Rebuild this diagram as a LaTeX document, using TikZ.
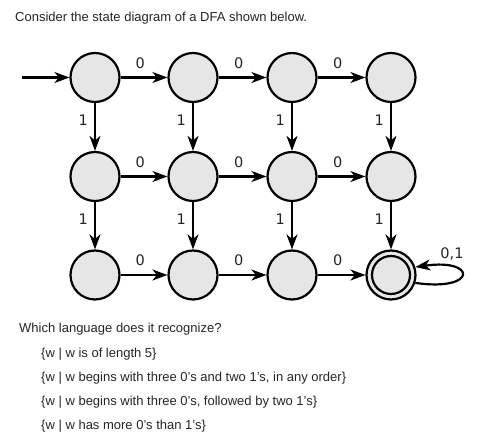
\documentclass[tikz,border=0pt]{standalone}
\usepackage{fontspec}
\setmainfont{Liberation Sans}
\newfontfamily\dejavu{DejaVu Sans}
\usetikzlibrary{arrows.meta}
\definecolor{stategray}{HTML}{E6E6E6}
\begin{document}
\begin{tikzpicture}[x=1pt,y=-1pt,
  state/.style={circle, draw=black, line width=2.2pt, fill=stategray, minimum size=49pt, inner sep=0pt},
  inner/.style={circle, draw=black, line width=2.2pt, minimum size=38pt, inner sep=0pt},
  arr/.style={line width=2.2pt, -{Stealth[length=15pt,width=11pt,inset=4.5pt]}},
  lab/.style={font=\dejavu\fontsize{14.5}{16}\selectfont, inner sep=0pt, text=black!85},
  txt/.style={font=\fontsize{13}{15}\selectfont, anchor=base west, inner sep=0pt, text=black!85}]
\useasboundingbox (0,0) rectangle (480,443);
\fill[white] (0,0) rectangle (480,443);

\node[txt] (q) at (15,21.5) {Consider the state diagram of a DFA shown below.};

\foreach \c/\x in {1/95,2/193,3/292,4/391}{
  \foreach \r/\y in {1/77.5,2/176.5,3/275}{
    \node[state] (s\r\c) at (\x,\y) {};
  }
}
\node[inner] (fin) at (s34) {};

\coordinate (start) at (22,77.5);
\draw[arr] (start) -- (s11);

\foreach \r in {1,2,3}{
  \foreach \a/\b in {1/2,2/3,3/4}{
    \draw[arr] (s\r\a) -- node[lab, pos=0.42, above=8pt] (h\r\a) {0} (s\r\b);
  }
}
\foreach \c in {1,2,3,4}{
  \foreach \a/\b in {1/2,2/3}{
    \draw[arr] (s\a\c) -- node[lab, pos=0.36, left=6pt] (v\a\c) {1} (s\b\c);
  }
}

\draw[arr] (s34.-18) .. controls +(62,9) and +(62,-9) .. (s34.18);
\node[lab] (loop) at ([shift={(61,-21)}]s34.center) {0,1};

\node[txt] (w) at (19,332.5) {Which language does it recognize?};
\node[txt] (o1) at (41,357.5) {\{w | w is of length 5\}};
\node[txt] (o2) at (41,381.5) {\{w | w begins with three 0's and two 1's, in any order\}};
\node[txt] (o3) at (41,405.5) {\{w | w begins with three 0's, followed by two 1's\}};
\node[txt] (o4) at (41,429.5) {\{w | w has more 0's than 1's\}};
\end{tikzpicture}
\end{document}
